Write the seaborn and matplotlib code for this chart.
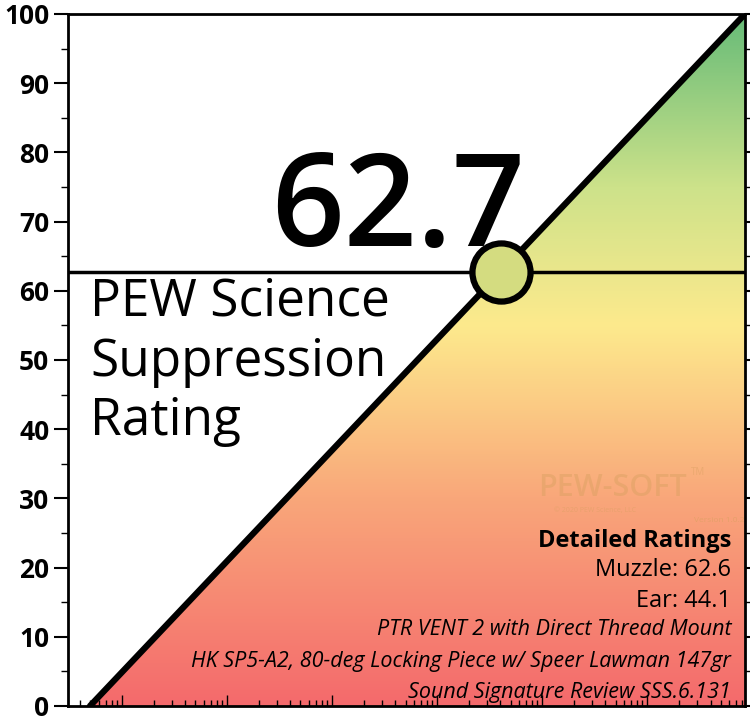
import numpy as np
import matplotlib
matplotlib.use("Agg")
import matplotlib.pyplot as plt
import seaborn as sns
from matplotlib.colors import LinearSegmentedColormap
from matplotlib.patches import Polygon
from matplotlib.ticker import FixedLocator

sns.set_theme(style="white")
plt.rcParams['font.family'] = ['Open Sans', 'DejaVu Sans']
plt.rcParams['text.color'] = 'black'
plt.rcParams['ytick.color'] = 'black'
plt.rcParams['xtick.color'] = 'black'

rating = 62.7
muzzle = 62.6
ear = 44.1
line_x = [10**0.695, 10**6.93]
line_y = [0, 100]
yticks = [0, 10, 20, 30, 40, 50, 60, 70, 80, 90, 100]
info_lines = ["PTR VENT 2 with Direct Thread Mount",
              "HK SP5-A2, 80-deg Locking Piece w/ Speer Lawman 147gr",
              "Sound Signature Review SSS.6.131"]

fig = plt.figure(figsize=(7.5, 7.19), dpi=100)
ax = fig.add_axes([68/750, 13/719, 677/750, 692/719])
ax.set_xscale('log')
xmin, xmax = 10**0.486, 10**6.93
ax.set_xlim(xmin, xmax)
ax.set_ylim(0, 100)

cmap = LinearSegmentedColormap.from_list('g', [(0, '#f46a6c'), (0.3, '#f9a77a'), (0.55, '#fdea8d'), (0.75, '#cde28a'), (1, '#66bb78')])
grad = np.linspace(0, 1, 256).reshape(-1, 1)
im = ax.imshow(grad, cmap=cmap, origin='lower', aspect='auto', extent=[xmin, xmax, 0, 100], zorder=1)
poly = Polygon([(line_x[0], 0), (line_x[1], 100), (xmax, 100), (xmax, 0)], closed=True, transform=ax.transData, facecolor='none', edgecolor='none')
ax.add_patch(poly)
im.set_clip_path(poly)

sns.lineplot(x=line_x, y=line_y, ax=ax, color='black', lw=4.5, zorder=3)
ax.axhline(rating, color='black', lw=2.5, zorder=3)
xc = 10**(np.log10(line_x[0]) + rating/100*(np.log10(line_x[1]) - np.log10(line_x[0])))
ax.scatter([xc], [rating], s=1750, facecolor='#d4dc80', edgecolor='black', linewidth=4.5, zorder=4)

ax.text(10**3.63, 66.5, f"{rating}", fontsize=92, fontweight='semibold', ha='center', va='baseline', zorder=5)
ax.text(10**0.7, 62.0, "PEW Science\nSuppression\nRating", fontsize=37, ha='left', va='top', linespacing=1.22, zorder=5)

tx = 10**6.80
ys = [23.8, 19.7, 15.2]
ax.text(tx, ys[0], "Detailed Ratings", fontsize=17, fontweight='bold', ha='right', va='center', zorder=5)
ax.text(tx, ys[1], f"Muzzle: {muzzle}", fontsize=17, ha='right', va='center', zorder=5)
ax.text(tx, ys[2], f"Ear: {ear}", fontsize=17, ha='right', va='center', zorder=5)
for i, s in enumerate(info_lines):
    ax.text(tx, 11.0 - 4.5*i, s, fontsize=15.5, style='italic', ha='right', va='center', zorder=5)

ax.text(10**5.67, 31.5, "PEW-SOFT", fontsize=22, fontweight='semibold', color='#d9a060', alpha=0.45, ha='center', va='center', zorder=2)
ax.text(10**6.42, 33.8, "TM", fontsize=7, color='#d9a060', alpha=0.45, ha='left', va='center', zorder=2)
ax.text(10**5.5, 28.2, "© 2020 PEW Science, LLC", fontsize=5, color='#d9a060', alpha=0.5, ha='center', va='center', zorder=2)
ax.text(10**6.93, 26.8, "Version 1.0.2", fontsize=6, color='#d9a060', alpha=0.6, ha='right', va='center', zorder=2)

ax.set_yticks(yticks)
ax.tick_params(axis='y', which='both', left=True, right=True, length=10, width=1.5, labelsize=19, direction='out')
ax.set_yticks(np.arange(5, 100, 10), minor=True)
ax.tick_params(axis='y', which='minor', length=5, width=1, left=True, right=True)
majors = [10.0**k for k in range(1, 7)]
minors = [m * 10.0**k for k in range(0, 7) for m in range(2, 10) if xmin <= m * 10.0**k <= xmax]
ax.xaxis.set_major_locator(FixedLocator(majors))
ax.xaxis.set_minor_locator(FixedLocator(minors))
ax.tick_params(axis='x', which='major', bottom=True, direction='in', length=8, width=1, labelbottom=False)
ax.tick_params(axis='x', which='minor', bottom=True, direction='in', length=4, width=1, labelbottom=False)
ax.set_axisbelow(False)
for lab in ax.get_yticklabels():
    lab.set_fontweight('bold')
for sp in ax.spines.values():
    sp.set_linewidth(2)
    sp.set_color('black')
ax.grid(False)
fig.savefig('out.png', dpi=100)
